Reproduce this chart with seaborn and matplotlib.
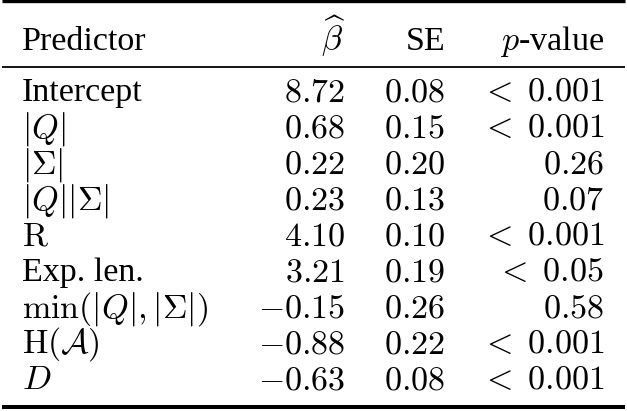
import matplotlib
matplotlib.use("Agg")
import matplotlib.pyplot as plt
from matplotlib import font_manager as fm
import seaborn as sns

sns.set_theme(style="white")
plt.rcParams['font.family'] = ['Liberation Serif', 'DejaVu Serif']
plt.rcParams['mathtext.fontset'] = 'cm'

headers = ["Predictor", r"$\widehat{\beta}$", "SE", r"$p$-value"]
predictors = [r"Intercept", r"$|Q|$", r"$|\Sigma|$", r"$|Q||\Sigma|$", r"$\mathrm{R}$",
              r"Exp. len.", r"$\min(|Q|,|\Sigma|)$", r"$\mathrm{H}(\mathcal{A})$", r"$D$"]
beta = ["8.72", "0.68", "0.22", "0.23", "4.10", "3.21", "-0.15", "-0.88", "-0.63"]
se = ["0.08", "0.15", "0.20", "0.13", "0.10", "0.19", "0.26", "0.22", "0.08"]
pval = ["< 0.001", "< 0.001", "0.26", "0.07", "< 0.001", "< 0.05", "0.58", "< 0.001", "< 0.001"]

W, H = 627, 411
fig = plt.figure(figsize=(W / 100, H / 100), dpi=100)
ax = fig.add_axes([0, 0, 1, 1])
ax.set_xlim(0, W)
ax.set_ylim(H, 0)
ax.axis("off")

fs = 24.5
serif_path = fm.findfont(fm.FontProperties(family=["Liberation Serif"]))
x_left, x_beta, x_se, x_p = 22, 345, 445, 604
y_head = 50
y0, dy = 101, 36

def put(x, y, s, ha):
    fp = fm.FontProperties(fname=serif_path, size=fs)
    ax.text(x, y, s, ha=ha, va="baseline", fontproperties=fp, color="black")

put(x_left, y_head, headers[0], "left")
put(x_beta, y_head, headers[1], "right")
put(x_se, y_head, headers[2], "right")
put(x_p, y_head, headers[3], "right")

def m(s):
    s = s.replace("< ", r"<\;")
    return "$" + s + "$"

for i, (name, b, s, p) in enumerate(zip(predictors, beta, se, pval)):
    y = y0 + i * dy
    put(x_left, y, name, "left")
    put(x_beta, y, m(b), "right")
    put(x_se, y, m(s), "right")
    put(x_p, y, m(p), "right")

ax.hlines(1.5, 2, 625, color="black", lw=2.4)
ax.hlines(67, 2, 625, color="black", lw=1.3)
ax.hlines(407, 2, 625, color="black", lw=2.9)

fig.savefig("out.png", dpi=100)
